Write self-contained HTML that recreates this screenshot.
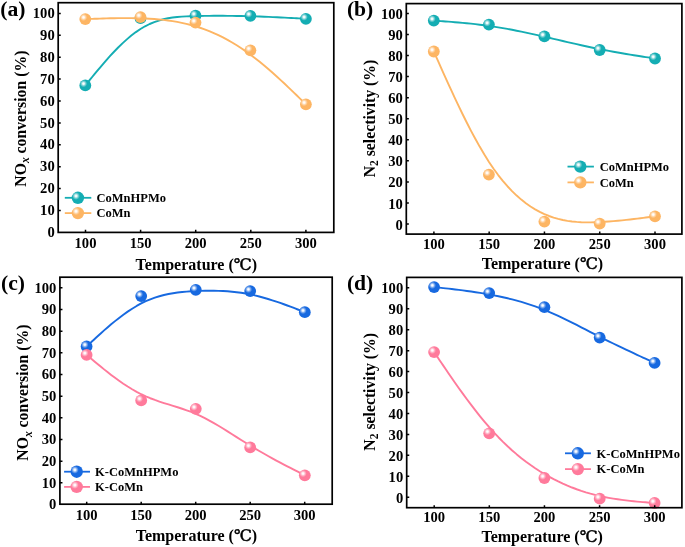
<!DOCTYPE html>
<html lang="en"><head><meta charset="utf-8"><title>NOx conversion and N2 selectivity</title>
<style>html,body{margin:0;padding:0;background:#fff}svg{display:block}text{font-family:"Liberation Serif", "DejaVu Serif", serif;font-weight:bold;fill:#000}</style></head><body>
<svg width="685" height="547" viewBox="0 0 685 547">
<rect width="685" height="547" fill="#fff"/>
<defs>
<radialGradient id="g_teal" cx="0.35" cy="0.35" r="0.31"><stop offset="0" stop-color="#fff"/><stop offset="0.25" stop-color="#ecf8f9"/><stop offset="0.58" stop-color="#7ed2d5"/><stop offset="1" stop-color="#14adb3"/></radialGradient>
<radialGradient id="g_orange" cx="0.35" cy="0.35" r="0.31"><stop offset="0" stop-color="#fff"/><stop offset="0.25" stop-color="#fff9f3"/><stop offset="0.58" stop-color="#fed6a9"/><stop offset="1" stop-color="#fdb563"/></radialGradient>
<radialGradient id="g_blue" cx="0.35" cy="0.35" r="0.31"><stop offset="0" stop-color="#fff"/><stop offset="0.25" stop-color="#ecf3fd"/><stop offset="0.58" stop-color="#7facee"/><stop offset="1" stop-color="#1769e0"/></radialGradient>
<radialGradient id="g_pink" cx="0.35" cy="0.35" r="0.31"><stop offset="0" stop-color="#fff"/><stop offset="0.25" stop-color="#fff4f7"/><stop offset="0.58" stop-color="#ffb6c8"/><stop offset="1" stop-color="#ff7a9b"/></radialGradient>
</defs>
<g>
<path d="M85.3 85.4 L85.31 85.39 L85.34 85.35 L85.44 85.23 L85.64 84.99 L85.97 84.59 L86.45 84 L87.13 83.18 L88.03 82.08 L89.18 80.67 L90.62 78.92 L92.39 76.77 L94.5 74.2 L96.99 71.18 L99.82 67.77 L102.98 64.04 L106.42 60.08 L110.12 55.96 L114.05 51.75 L118.16 47.53 L122.43 43.38 L126.83 39.37 L131.32 35.58 L135.88 32.09 L140.47 28.97 L145.06 26.28 L149.65 24 L154.24 22.1 L158.82 20.54 L163.41 19.29 L167.99 18.3 L172.58 17.55 L177.16 17 L181.74 16.62 L186.32 16.35 L190.9 16.18 L195.48 16.07 L200.06 15.98 L204.64 15.91 L209.22 15.85 L213.8 15.82 L218.38 15.81 L222.96 15.82 L227.54 15.84 L232.13 15.89 L236.72 15.95 L241.31 16.04 L245.9 16.14 L250.5 16.27 L255.1 16.41 L259.67 16.57 L264.17 16.74 L268.59 16.92 L272.88 17.11 L277.01 17.3 L280.95 17.48 L284.66 17.67 L288.12 17.85 L291.3 18.01 L294.15 18.17 L296.65 18.3 L298.78 18.41 L300.55 18.51 L302 18.59 L303.16 18.65 L304.06 18.7 L304.74 18.74 L305.23 18.76 L305.56 18.78 L305.76 18.79 L305.86 18.8 L305.89 18.8 L305.9 18.8" fill="none" stroke="#14adb3" stroke-width="1.9" stroke-linecap="round" stroke-linejoin="round"/>
<circle cx="85.3" cy="85.4" r="5.9" fill="url(#g_teal)"/>
<circle cx="140.5" cy="18.2" r="5.9" fill="url(#g_teal)"/>
<circle cx="195.5" cy="15.6" r="5.9" fill="url(#g_teal)"/>
<circle cx="250.4" cy="15.8" r="5.9" fill="url(#g_teal)"/>
<circle cx="305.9" cy="18.8" r="5.9" fill="url(#g_teal)"/>
<path d="M85.3 19.1 L85.31 19.1 L85.34 19.1 L85.44 19.09 L85.64 19.09 L85.97 19.08 L86.45 19.06 L87.13 19.03 L88.03 19 L89.18 18.96 L90.62 18.91 L92.39 18.84 L94.5 18.77 L96.99 18.68 L99.82 18.58 L102.98 18.48 L106.42 18.38 L110.12 18.29 L114.05 18.21 L118.16 18.16 L122.43 18.12 L126.83 18.12 L131.32 18.16 L135.88 18.23 L140.47 18.35 L145.06 18.52 L149.65 18.76 L154.24 19.06 L158.82 19.44 L163.41 19.91 L167.99 20.47 L172.58 21.13 L177.16 21.91 L181.74 22.81 L186.32 23.83 L190.9 24.99 L195.48 26.3 L200.06 27.76 L204.64 29.38 L209.22 31.15 L213.8 33.09 L218.38 35.19 L222.96 37.46 L227.54 39.9 L232.13 42.5 L236.72 45.28 L241.31 48.24 L245.9 51.37 L250.5 54.68 L255.1 58.17 L259.67 61.79 L264.17 65.51 L268.59 69.27 L272.88 73.02 L277.01 76.72 L280.95 80.33 L284.66 83.8 L288.12 87.07 L291.3 90.11 L294.15 92.87 L296.65 95.3 L298.78 97.37 L300.55 99.09 L302 100.5 L303.16 101.63 L304.06 102.51 L304.74 103.17 L305.23 103.65 L305.56 103.97 L305.76 104.16 L305.86 104.26 L305.89 104.29 L305.9 104.3" fill="none" stroke="#fdb563" stroke-width="1.9" stroke-linecap="round" stroke-linejoin="round"/>
<circle cx="85.3" cy="19.1" r="5.9" fill="url(#g_orange)"/>
<circle cx="140.5" cy="17.1" r="5.9" fill="url(#g_orange)"/>
<circle cx="195.5" cy="22.6" r="5.9" fill="url(#g_orange)"/>
<circle cx="250.4" cy="50.3" r="5.9" fill="url(#g_orange)"/>
<circle cx="305.9" cy="104.3" r="5.9" fill="url(#g_orange)"/>
<rect x="58.2" y="2.7" width="275.6" height="229.7" fill="none" stroke="#000" stroke-width="1.7"/>
<path d="M58.2 210.45 h2.55 M58.2 188.56 h2.55 M58.2 166.67 h2.55 M58.2 144.77 h2.55 M58.2 122.88 h2.55 M58.2 100.98 h2.55 M58.2 79.09 h2.55 M58.2 57.19 h2.55 M58.2 35.3 h2.55 M58.2 13.4 h2.55 M85.5 232.4 v-2.55 M140.6 232.4 v-2.55 M195.7 232.4 v-2.55 M250.8 232.4 v-2.55 M305.9 232.4 v-2.55" stroke="#000" stroke-width="1.5" fill="none"/>
<text x="54.7" y="237.05" font-size="14.6" text-anchor="end">0</text>
<text x="54.7" y="215.15" font-size="14.6" text-anchor="end">10</text>
<text x="54.7" y="193.26" font-size="14.6" text-anchor="end">20</text>
<text x="54.7" y="171.37" font-size="14.6" text-anchor="end">30</text>
<text x="54.7" y="149.47" font-size="14.6" text-anchor="end">40</text>
<text x="54.7" y="127.58" font-size="14.6" text-anchor="end">50</text>
<text x="54.7" y="105.68" font-size="14.6" text-anchor="end">60</text>
<text x="54.7" y="83.79" font-size="14.6" text-anchor="end">70</text>
<text x="54.7" y="61.89" font-size="14.6" text-anchor="end">80</text>
<text x="54.7" y="40" font-size="14.6" text-anchor="end">90</text>
<text x="54.7" y="18.1" font-size="14.6" text-anchor="end">100</text>
<text x="85.5" y="247.5" font-size="14.6" text-anchor="middle">100</text>
<text x="140.6" y="247.5" font-size="14.6" text-anchor="middle">150</text>
<text x="195.7" y="247.5" font-size="14.6" text-anchor="middle">200</text>
<text x="250.8" y="247.5" font-size="14.6" text-anchor="middle">250</text>
<text x="305.9" y="247.5" font-size="14.6" text-anchor="middle">300</text>
<text x="196.3" y="269.8" font-size="16" text-anchor="middle">Temperature (<tspan font-family="'DejaVu Serif', serif" font-weight="normal" stroke="#000" stroke-width="0.5">℃</tspan>)</text>
<text transform="translate(25.5 118.65) rotate(-90)" font-size="15.75" text-anchor="middle">NO<tspan font-size="11.5" font-style="italic" dy="3.5">x</tspan><tspan dy="-3.5"> conversion (%)</tspan></text>
<text x="0.2" y="16" font-size="21.6">(a)</text>
<path d="M64.8 197.8 H91.3" stroke="#14adb3" stroke-width="1.8"/>
<circle cx="77.9" cy="197.8" r="6.2" fill="url(#g_teal)"/>
<text x="96.5" y="202" font-size="12.5">CoMnHPMo</text>
<path d="M64.8 213.1 H91.3" stroke="#fdb563" stroke-width="1.8"/>
<circle cx="77.9" cy="213.1" r="6.2" fill="url(#g_orange)"/>
<text x="96.5" y="217.3" font-size="12.5">CoMn</text>
</g>
<g>
<path d="M433.8 20.6 L433.81 20.6 L433.84 20.6 L433.94 20.61 L434.14 20.62 L434.46 20.65 L434.95 20.68 L435.62 20.73 L436.52 20.8 L437.67 20.88 L439.11 20.99 L440.87 21.11 L442.98 21.27 L445.47 21.45 L448.3 21.66 L451.45 21.9 L454.89 22.18 L458.59 22.49 L462.51 22.85 L466.62 23.24 L470.89 23.68 L475.3 24.16 L479.8 24.69 L484.36 25.27 L488.97 25.9 L493.58 26.58 L498.19 27.32 L502.8 28.1 L507.42 28.93 L512.04 29.8 L516.65 30.7 L521.27 31.64 L525.89 32.6 L530.51 33.6 L535.13 34.61 L539.75 35.65 L544.37 36.7 L548.98 37.76 L553.6 38.84 L558.21 39.91 L562.82 40.99 L567.44 42.06 L572.05 43.13 L576.66 44.19 L581.27 45.23 L585.87 46.25 L590.48 47.24 L595.09 48.21 L599.7 49.15 L604.3 50.05 L608.87 50.92 L613.38 51.74 L617.79 52.53 L622.07 53.27 L626.2 53.97 L630.13 54.62 L633.84 55.22 L637.29 55.76 L640.45 56.26 L643.29 56.7 L645.78 57.08 L647.9 57.41 L649.67 57.68 L651.11 57.9 L652.27 58.08 L653.17 58.22 L653.85 58.32 L654.33 58.4 L654.66 58.45 L654.86 58.48 L654.96 58.49 L654.99 58.5 L655 58.5" fill="none" stroke="#14adb3" stroke-width="1.9" stroke-linecap="round" stroke-linejoin="round"/>
<circle cx="433.8" cy="20.6" r="5.9" fill="url(#g_teal)"/>
<circle cx="488.9" cy="24.6" r="5.9" fill="url(#g_teal)"/>
<circle cx="544.4" cy="36.4" r="5.9" fill="url(#g_teal)"/>
<circle cx="599.7" cy="50" r="5.9" fill="url(#g_teal)"/>
<circle cx="655" cy="58.5" r="5.9" fill="url(#g_teal)"/>
<path d="M433.8 51.5 L433.81 51.51 L433.84 51.59 L433.94 51.82 L434.14 52.26 L434.46 52.98 L434.95 54.06 L435.62 55.57 L436.52 57.58 L437.67 60.16 L439.11 63.37 L440.87 67.3 L442.98 72.02 L445.47 77.55 L448.3 83.83 L451.45 90.73 L454.89 98.14 L458.59 105.95 L462.51 114.03 L466.62 122.27 L470.89 130.57 L475.3 138.79 L479.8 146.84 L484.36 154.58 L488.97 161.92 L493.58 168.74 L498.19 175.06 L502.8 180.88 L507.42 186.23 L512.04 191.12 L516.65 195.58 L521.27 199.61 L525.89 203.24 L530.51 206.49 L535.13 209.37 L539.75 211.9 L544.37 214.1 L548.98 215.99 L553.6 217.59 L558.21 218.91 L562.82 219.99 L567.44 220.83 L572.05 221.47 L576.66 221.92 L581.27 222.2 L585.87 222.33 L590.48 222.33 L595.09 222.24 L599.7 222.05 L604.3 221.8 L608.87 221.49 L613.38 221.14 L617.79 220.75 L622.07 220.34 L626.2 219.91 L630.13 219.47 L633.84 219.04 L637.29 218.61 L640.45 218.21 L643.29 217.84 L645.78 217.52 L647.9 217.24 L649.67 217 L651.11 216.81 L652.27 216.66 L653.17 216.54 L653.85 216.45 L654.33 216.39 L654.66 216.35 L654.86 216.32 L654.96 216.31 L654.99 216.3 L655 216.3" fill="none" stroke="#fdb563" stroke-width="1.9" stroke-linecap="round" stroke-linejoin="round"/>
<circle cx="433.8" cy="51.5" r="5.9" fill="url(#g_orange)"/>
<circle cx="488.9" cy="174.6" r="5.9" fill="url(#g_orange)"/>
<circle cx="544.4" cy="221.6" r="5.9" fill="url(#g_orange)"/>
<circle cx="599.7" cy="223.6" r="5.9" fill="url(#g_orange)"/>
<circle cx="655" cy="216.3" r="5.9" fill="url(#g_orange)"/>
<rect x="406.3" y="3.6" width="275.6" height="230.5" fill="none" stroke="#000" stroke-width="1.7"/>
<path d="M406.3 224 h2.55 M406.3 202.94 h2.55 M406.3 181.88 h2.55 M406.3 160.82 h2.55 M406.3 139.76 h2.55 M406.3 118.7 h2.55 M406.3 97.64 h2.55 M406.3 76.58 h2.55 M406.3 55.52 h2.55 M406.3 34.46 h2.55 M406.3 13.4 h2.55 M433.9 234.1 v-2.55 M489.17 234.1 v-2.55 M544.45 234.1 v-2.55 M599.73 234.1 v-2.55 M655 234.1 v-2.55" stroke="#000" stroke-width="1.5" fill="none"/>
<text x="402.8" y="229.6" font-size="14.6" text-anchor="end">0</text>
<text x="402.8" y="208.54" font-size="14.6" text-anchor="end">10</text>
<text x="402.8" y="187.48" font-size="14.6" text-anchor="end">20</text>
<text x="402.8" y="166.42" font-size="14.6" text-anchor="end">30</text>
<text x="402.8" y="145.36" font-size="14.6" text-anchor="end">40</text>
<text x="402.8" y="124.3" font-size="14.6" text-anchor="end">50</text>
<text x="402.8" y="103.24" font-size="14.6" text-anchor="end">60</text>
<text x="402.8" y="82.18" font-size="14.6" text-anchor="end">70</text>
<text x="402.8" y="61.12" font-size="14.6" text-anchor="end">80</text>
<text x="402.8" y="40.06" font-size="14.6" text-anchor="end">90</text>
<text x="402.8" y="19" font-size="14.6" text-anchor="end">100</text>
<text x="433.9" y="249.1" font-size="14.6" text-anchor="middle">100</text>
<text x="489.17" y="249.1" font-size="14.6" text-anchor="middle">150</text>
<text x="544.45" y="249.1" font-size="14.6" text-anchor="middle">200</text>
<text x="599.73" y="249.1" font-size="14.6" text-anchor="middle">250</text>
<text x="655" y="249.1" font-size="14.6" text-anchor="middle">300</text>
<text x="542.4" y="268.5" font-size="16" text-anchor="middle">Temperature (<tspan font-family="'DejaVu Serif', serif" font-weight="normal" stroke="#000" stroke-width="0.5">℃</tspan>)</text>
<text transform="translate(374.6 118.5) rotate(-90)" font-size="15.75" text-anchor="middle">N<tspan font-size="11.5" dy="3.5">2</tspan><tspan dy="-3.5"> selectivity (%)</tspan></text>
<text x="346.9" y="16" font-size="21.6">(b)</text>
<path d="M567.5 166.6 H593.9" stroke="#14adb3" stroke-width="1.8"/>
<circle cx="580.3" cy="166.6" r="6.2" fill="url(#g_teal)"/>
<text x="599.7" y="170.8" font-size="12.5">CoMnHPMo</text>
<path d="M567.5 182.4 H593.9" stroke="#fdb563" stroke-width="1.8"/>
<circle cx="580.3" cy="182.4" r="6.2" fill="url(#g_orange)"/>
<text x="599.7" y="186.6" font-size="12.5">CoMn</text>
</g>
<g>
<path d="M86.6 346.4 L86.61 346.4 L86.64 346.36 L86.74 346.27 L86.94 346.09 L87.26 345.79 L87.74 345.35 L88.41 344.74 L89.3 343.92 L90.44 342.86 L91.87 341.55 L93.61 339.94 L95.7 338.02 L98.16 335.76 L100.97 333.2 L104.09 330.4 L107.5 327.42 L111.16 324.31 L115.04 321.12 L119.11 317.91 L123.34 314.73 L127.69 311.64 L132.14 308.69 L136.66 305.94 L141.2 303.43 L145.75 301.22 L150.3 299.3 L154.85 297.64 L159.4 296.22 L163.95 295.02 L168.5 294.03 L173.04 293.21 L177.59 292.55 L182.14 292.02 L186.68 291.62 L191.22 291.3 L195.77 291.07 L200.31 290.89 L204.85 290.76 L209.39 290.71 L213.92 290.73 L218.46 290.83 L223 291.02 L227.54 291.3 L232.08 291.69 L236.61 292.19 L241.15 292.8 L245.69 293.53 L250.23 294.4 L254.77 295.4 L259.28 296.51 L263.72 297.71 L268.07 298.98 L272.3 300.29 L276.37 301.62 L280.25 302.95 L283.9 304.25 L287.31 305.49 L290.43 306.66 L293.24 307.73 L295.7 308.68 L297.79 309.49 L299.53 310.16 L300.96 310.72 L302.1 311.16 L302.99 311.5 L303.66 311.76 L304.14 311.95 L304.46 312.07 L304.66 312.15 L304.76 312.18 L304.79 312.2 L304.8 312.2" fill="none" stroke="#1769e0" stroke-width="1.9" stroke-linecap="round" stroke-linejoin="round"/>
<circle cx="86.6" cy="346.4" r="5.9" fill="url(#g_blue)"/>
<circle cx="141.2" cy="296.1" r="5.9" fill="url(#g_blue)"/>
<circle cx="195.8" cy="289.8" r="5.9" fill="url(#g_blue)"/>
<circle cx="250.2" cy="291.1" r="5.9" fill="url(#g_blue)"/>
<circle cx="304.8" cy="312.2" r="5.9" fill="url(#g_blue)"/>
<path d="M86.6 354.9 L86.61 354.9 L86.64 354.94 L86.74 355.02 L86.94 355.18 L87.26 355.45 L87.74 355.85 L88.41 356.41 L89.3 357.15 L90.44 358.1 L91.87 359.29 L93.61 360.74 L95.7 362.48 L98.16 364.53 L100.97 366.84 L104.09 369.38 L107.5 372.08 L111.16 374.92 L115.04 377.82 L119.11 380.76 L123.34 383.68 L127.69 386.53 L132.14 389.27 L136.66 391.85 L141.2 394.22 L145.75 396.34 L150.3 398.24 L154.85 399.97 L159.4 401.55 L163.95 403.04 L168.5 404.46 L173.04 405.85 L177.59 407.26 L182.14 408.73 L186.68 410.28 L191.22 411.97 L195.77 413.83 L200.31 415.89 L204.85 418.14 L209.39 420.55 L213.92 423.09 L218.46 425.75 L223 428.51 L227.54 431.33 L232.08 434.19 L236.61 437.08 L241.15 439.96 L245.69 442.81 L250.23 445.62 L254.77 448.35 L259.28 451 L263.72 453.55 L268.07 456 L272.3 458.33 L276.37 460.55 L280.25 462.62 L283.9 464.56 L287.31 466.34 L290.43 467.95 L293.24 469.39 L295.7 470.65 L297.79 471.72 L299.53 472.61 L300.96 473.34 L302.1 473.92 L302.99 474.38 L303.66 474.72 L304.14 474.96 L304.46 475.13 L304.66 475.23 L304.76 475.28 L304.79 475.3 L304.8 475.3" fill="none" stroke="#ff7a9b" stroke-width="1.9" stroke-linecap="round" stroke-linejoin="round"/>
<circle cx="86.6" cy="354.9" r="5.9" fill="url(#g_pink)"/>
<circle cx="141.2" cy="400.4" r="5.9" fill="url(#g_pink)"/>
<circle cx="195.8" cy="408.8" r="5.9" fill="url(#g_pink)"/>
<circle cx="250.2" cy="447.4" r="5.9" fill="url(#g_pink)"/>
<circle cx="304.8" cy="475.3" r="5.9" fill="url(#g_pink)"/>
<rect x="59.9" y="277.2" width="272.3" height="227" fill="none" stroke="#000" stroke-width="1.7"/>
<path d="M59.9 482.83 h2.55 M59.9 461.16 h2.55 M59.9 439.49 h2.55 M59.9 417.82 h2.55 M59.9 396.15 h2.55 M59.9 374.48 h2.55 M59.9 352.81 h2.55 M59.9 331.14 h2.55 M59.9 309.47 h2.55 M59.9 287.8 h2.55 M86.7 504.2 v-2.55 M141.2 504.2 v-2.55 M195.7 504.2 v-2.55 M250.2 504.2 v-2.55 M304.7 504.2 v-2.55" stroke="#000" stroke-width="1.5" fill="none"/>
<text x="56.4" y="509.2" font-size="14.6" text-anchor="end">0</text>
<text x="56.4" y="487.53" font-size="14.6" text-anchor="end">10</text>
<text x="56.4" y="465.86" font-size="14.6" text-anchor="end">20</text>
<text x="56.4" y="444.19" font-size="14.6" text-anchor="end">30</text>
<text x="56.4" y="422.52" font-size="14.6" text-anchor="end">40</text>
<text x="56.4" y="400.85" font-size="14.6" text-anchor="end">50</text>
<text x="56.4" y="379.18" font-size="14.6" text-anchor="end">60</text>
<text x="56.4" y="357.51" font-size="14.6" text-anchor="end">70</text>
<text x="56.4" y="335.84" font-size="14.6" text-anchor="end">80</text>
<text x="56.4" y="314.17" font-size="14.6" text-anchor="end">90</text>
<text x="56.4" y="292.5" font-size="14.6" text-anchor="end">100</text>
<text x="86.7" y="519.6" font-size="14.6" text-anchor="middle">100</text>
<text x="141.2" y="519.6" font-size="14.6" text-anchor="middle">150</text>
<text x="195.7" y="519.6" font-size="14.6" text-anchor="middle">200</text>
<text x="250.2" y="519.6" font-size="14.6" text-anchor="middle">250</text>
<text x="304.7" y="519.6" font-size="14.6" text-anchor="middle">300</text>
<text x="196.4" y="540.6" font-size="16" text-anchor="middle">Temperature (<tspan font-family="'DejaVu Serif', serif" font-weight="normal" stroke="#000" stroke-width="0.5">℃</tspan>)</text>
<text transform="translate(28 392.65) rotate(-90)" font-size="15.75" text-anchor="middle">NO<tspan font-size="11.5" font-style="italic" dy="3.5">x</tspan><tspan dy="-3.5"> conversion (%)</tspan></text>
<text x="1" y="290" font-size="21.6">(c)</text>
<path d="M64.1 471.7 H90" stroke="#1769e0" stroke-width="1.8"/>
<circle cx="76.7" cy="471.7" r="6.2" fill="url(#g_blue)"/>
<text x="95.1" y="475.9" font-size="12.5">K-CoMnHPMo</text>
<path d="M64.1 486.9 H90" stroke="#ff7a9b" stroke-width="1.8"/>
<circle cx="76.7" cy="486.9" r="6.2" fill="url(#g_pink)"/>
<text x="95.1" y="491.1" font-size="12.5">K-CoMn</text>
</g>
<g>
<path d="M434.1 287.1 L434.11 287.1 L434.14 287.1 L434.24 287.12 L434.44 287.14 L434.76 287.17 L435.25 287.23 L435.92 287.3 L436.82 287.4 L437.97 287.52 L439.41 287.68 L441.17 287.87 L443.28 288.1 L445.77 288.37 L448.6 288.68 L451.75 289.04 L455.19 289.45 L458.88 289.9 L462.8 290.39 L466.91 290.94 L471.18 291.54 L475.58 292.19 L480.07 292.89 L484.63 293.64 L489.22 294.45 L493.81 295.32 L498.41 296.24 L503.01 297.24 L507.61 298.3 L512.2 299.44 L516.8 300.66 L521.4 301.96 L526.01 303.35 L530.61 304.84 L535.21 306.43 L539.81 308.12 L544.42 309.92 L549.02 311.83 L553.63 313.83 L558.23 315.93 L562.84 318.11 L567.44 320.34 L572.04 322.63 L576.65 324.96 L581.25 327.32 L585.85 329.68 L590.44 332.05 L595.04 334.41 L599.63 336.75 L604.22 339.05 L608.77 341.31 L613.25 343.5 L617.64 345.63 L621.9 347.67 L626 349.62 L629.9 351.46 L633.59 353.19 L637.01 354.78 L640.15 356.24 L642.98 357.54 L645.45 358.68 L647.55 359.65 L649.3 360.46 L650.74 361.12 L651.89 361.65 L652.78 362.06 L653.46 362.37 L653.94 362.59 L654.26 362.74 L654.46 362.83 L654.56 362.88 L654.59 362.9 L654.6 362.9" fill="none" stroke="#1769e0" stroke-width="1.9" stroke-linecap="round" stroke-linejoin="round"/>
<circle cx="434.1" cy="287.1" r="5.9" fill="url(#g_blue)"/>
<circle cx="489.2" cy="293.1" r="5.9" fill="url(#g_blue)"/>
<circle cx="544.4" cy="307.2" r="5.9" fill="url(#g_blue)"/>
<circle cx="599.7" cy="337.6" r="5.9" fill="url(#g_blue)"/>
<circle cx="654.6" cy="362.9" r="5.9" fill="url(#g_blue)"/>
<path d="M434.1 352.1 L434.11 352.11 L434.14 352.16 L434.24 352.31 L434.44 352.6 L434.76 353.08 L435.25 353.79 L435.92 354.79 L436.82 356.11 L437.97 357.81 L439.41 359.93 L441.17 362.52 L443.28 365.63 L445.77 369.29 L448.6 373.44 L451.75 378.01 L455.19 382.95 L458.88 388.18 L462.8 393.63 L466.91 399.24 L471.18 404.93 L475.58 410.65 L480.07 416.31 L484.63 421.86 L489.22 427.22 L493.81 432.34 L498.41 437.21 L503.01 441.85 L507.61 446.25 L512.2 450.43 L516.8 454.39 L521.4 458.14 L526.01 461.69 L530.61 465.04 L535.21 468.21 L539.81 471.19 L544.42 474 L549.02 476.64 L553.63 479.12 L558.23 481.44 L562.84 483.61 L567.44 485.63 L572.04 487.51 L576.65 489.24 L581.25 490.84 L585.85 492.31 L590.44 493.65 L595.04 494.87 L599.63 495.97 L604.22 496.95 L608.77 497.83 L613.25 498.61 L617.64 499.3 L621.9 499.9 L626 500.42 L629.9 500.87 L633.59 501.25 L637.01 501.58 L640.15 501.86 L642.98 502.09 L645.45 502.28 L647.55 502.45 L649.3 502.59 L650.74 502.7 L651.89 502.79 L652.78 502.86 L653.46 502.91 L653.94 502.95 L654.26 502.97 L654.46 502.99 L654.56 503 L654.59 503 L654.6 503" fill="none" stroke="#ff7a9b" stroke-width="1.9" stroke-linecap="round" stroke-linejoin="round"/>
<circle cx="434.1" cy="352.1" r="5.9" fill="url(#g_pink)"/>
<circle cx="489.2" cy="433.3" r="5.9" fill="url(#g_pink)"/>
<circle cx="544.4" cy="478" r="5.9" fill="url(#g_pink)"/>
<circle cx="599.7" cy="498.7" r="5.9" fill="url(#g_pink)"/>
<circle cx="654.6" cy="503" r="5.9" fill="url(#g_pink)"/>
<rect x="406.7" y="277.4" width="275.2" height="230.3" fill="none" stroke="#000" stroke-width="1.7"/>
<path d="M406.7 497.25 h2.55 M406.7 476.31 h2.55 M406.7 455.37 h2.55 M406.7 434.43 h2.55 M406.7 413.49 h2.55 M406.7 392.55 h2.55 M406.7 371.61 h2.55 M406.7 350.67 h2.55 M406.7 329.73 h2.55 M406.7 308.79 h2.55 M406.7 287.85 h2.55 M434.2 507.7 v-2.55 M489.32 507.7 v-2.55 M544.45 507.7 v-2.55 M599.58 507.7 v-2.55 M654.7 507.7 v-2.55" stroke="#000" stroke-width="1.5" fill="none"/>
<text x="403.2" y="502.65" font-size="14.6" text-anchor="end">0</text>
<text x="403.2" y="481.71" font-size="14.6" text-anchor="end">10</text>
<text x="403.2" y="460.77" font-size="14.6" text-anchor="end">20</text>
<text x="403.2" y="439.83" font-size="14.6" text-anchor="end">30</text>
<text x="403.2" y="418.89" font-size="14.6" text-anchor="end">40</text>
<text x="403.2" y="397.95" font-size="14.6" text-anchor="end">50</text>
<text x="403.2" y="377.01" font-size="14.6" text-anchor="end">60</text>
<text x="403.2" y="356.07" font-size="14.6" text-anchor="end">70</text>
<text x="403.2" y="335.13" font-size="14.6" text-anchor="end">80</text>
<text x="403.2" y="314.19" font-size="14.6" text-anchor="end">90</text>
<text x="403.2" y="293.25" font-size="14.6" text-anchor="end">100</text>
<text x="434.2" y="522.25" font-size="14.6" text-anchor="middle">100</text>
<text x="489.32" y="522.25" font-size="14.6" text-anchor="middle">150</text>
<text x="544.45" y="522.25" font-size="14.6" text-anchor="middle">200</text>
<text x="599.58" y="522.25" font-size="14.6" text-anchor="middle">250</text>
<text x="654.7" y="522.25" font-size="14.6" text-anchor="middle">300</text>
<text x="542.2" y="542.4" font-size="16" text-anchor="middle">Temperature (<tspan font-family="'DejaVu Serif', serif" font-weight="normal" stroke="#000" stroke-width="0.5">℃</tspan>)</text>
<text transform="translate(374.6 391.8) rotate(-90)" font-size="15.75" text-anchor="middle">N<tspan font-size="11.5" dy="3.5">2</tspan><tspan dy="-3.5"> selectivity (%)</tspan></text>
<text x="346.9" y="290.3" font-size="21.6">(d)</text>
<path d="M565 453.3 H590.9" stroke="#1769e0" stroke-width="1.8"/>
<circle cx="577.8" cy="453.3" r="6.2" fill="url(#g_blue)"/>
<text x="596.6" y="457.5" font-size="12.5">K-CoMnHPMo</text>
<path d="M565 469.1 H590.9" stroke="#ff7a9b" stroke-width="1.8"/>
<circle cx="577.8" cy="469.1" r="6.2" fill="url(#g_pink)"/>
<text x="596.6" y="473.3" font-size="12.5">K-CoMn</text>
</g>
</svg></body></html>
